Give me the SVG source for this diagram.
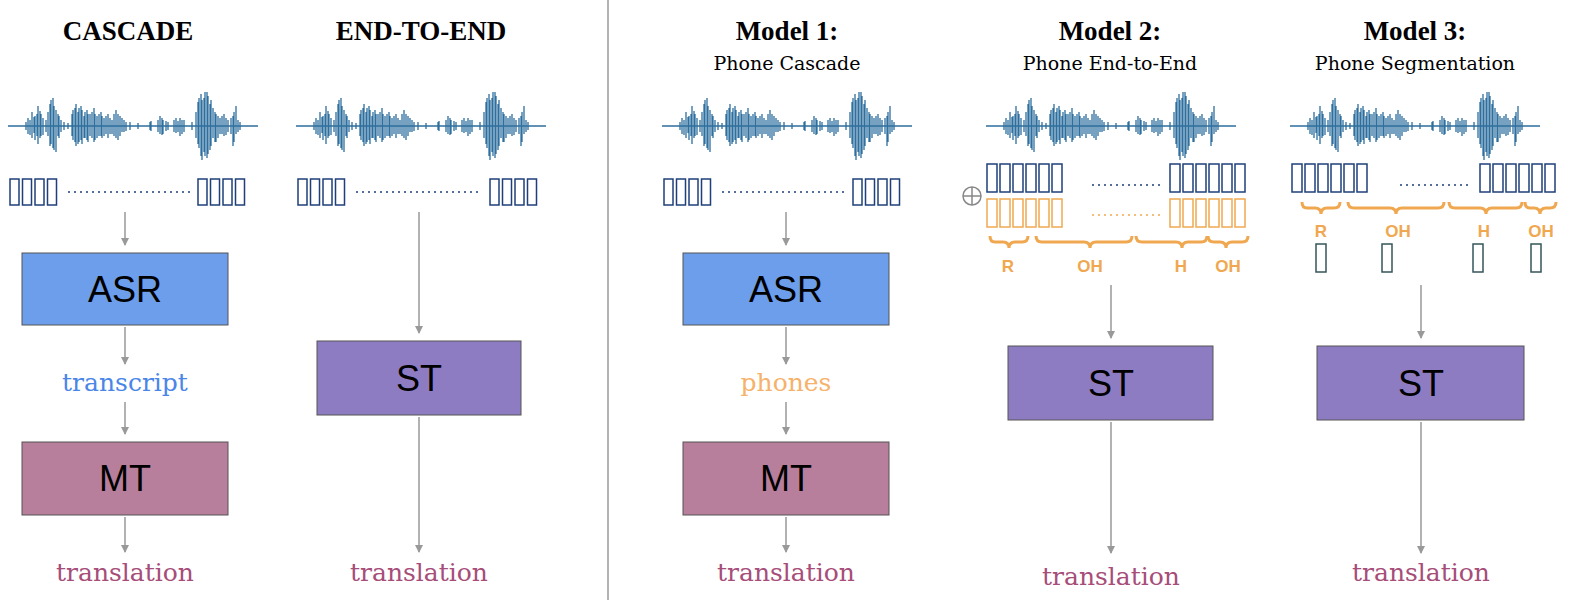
<svg xmlns="http://www.w3.org/2000/svg" width="1578" height="600" viewBox="0 0 1578 600">
<style>
.t{font-family:"Liberation Serif",serif;font-weight:bold;font-size:27px;text-anchor:middle}
.s{font-family:"DejaVu Serif",serif;font-size:19px;text-anchor:middle}
.b{font-family:"Liberation Sans",sans-serif;font-size:36px;text-anchor:middle}
.w{font-family:"DejaVu Serif",serif;font-size:25px;text-anchor:middle}
.a{stroke:#999;stroke-width:1.5;fill:none;marker-end:url(#ah)}
.bc{fill:none;stroke:#1f3f7a;stroke-width:1.5}
.oc{fill:none;stroke:#f0a850;stroke-width:1.5}
.gc{fill:none;stroke:#35555a;stroke-width:1.5}
.br{fill:none;stroke:#f0a850;stroke-width:3}
.dd{stroke-width:1.5;stroke-dasharray:2 4}
.l{font-family:"Liberation Sans",sans-serif;font-weight:bold;font-size:17px;fill:#f0a850;text-anchor:middle}
</style>
<defs>
<marker id="ah" markerWidth="10" markerHeight="10" refX="8" refY="5" orient="auto" markerUnits="userSpaceOnUse"><path d="M1,1 L9,5 L1,9 Z" fill="#999"/></marker>
<path id="wave" fill="none" stroke="#2e6f9e" stroke-width="1.3" d="M0,0 H250 M18,-4V4 M20,-8V8 M22,-6V9 M24,-14V12 M26,-9V7 M27,-10V14 M29,-12V10 M30,-20V18 M32,-15V12 M33,-12V10 M35,-8V9 M38,-6V6 M40,-14V10 M42,-22V20 M43,-26V18 M45,-28V22 M46,-20V24 M48,-16V26 M50,-12V10 M51,-10V12 M53,-6V6 M56,-4V4 M60,-3V3 M64,-12V10 M65,-16V14 M67,-18V16 M68,-22V20 M70,-14V18 M71,-18V16 M73,-20V14 M74,-16V18 M76,-10V12 M77,-14V12 M79,-16V14 M80,-12V16 M82,-12V10 M84,-14V12 M86,-18V16 M87,-12V14 M89,-10V12 M91,-12V10 M93,-14V10 M94,-10V12 M96,-8V10 M98,-10V8 M100,-12V12 M102,-8V8 M104,-6V8 M106,-12V10 M108,-16V12 M110,-12V14 M112,-10V10 M114,-8V6 M116,-6V6 M118,-4V5 M122,-4V4 M130,-3V3 M142,-4V4 M143,-5V5 M150,-6V6 M152,-10V8 M154,-8V9 M155,-6V8 M158,-5V5 M160,-4V4 M166,-6V6 M168,-8V7 M170,-5V6 M172,-8V10 M174,-6V8 M176,-6V6 M184,-4V4 M188,-14V12 M190,-24V18 M191,-28V22 M193,-32V30 M194,-26V34 M196,-28V26 M197,-34V30 M199,-34V32 M200,-30V28 M202,-22V24 M203,-26V20 M205,-18V12 M207,-14V16 M208,-12V16 M210,-10V12 M212,-8V8 M214,-10V8 M216,-12V10 M218,-8V9 M220,-6V6 M223,-8V8 M225,-10V20 M226,-14V16 M228,-20V8 M230,-6V6 M232,-4V4"/>
<g id="c4"><rect x="0" y="0" width="9" height="26"/><rect x="12.5" y="0" width="9" height="26"/><rect x="25" y="0" width="9" height="26"/><rect x="37.5" y="0" width="9" height="26"/></g>
<g id="c6"><rect x="0" y="0" width="10" height="28"/><rect x="13" y="0" width="10" height="28"/><rect x="26" y="0" width="10" height="28"/><rect x="39" y="0" width="10" height="28"/><rect x="52" y="0" width="10" height="28"/><rect x="65" y="0" width="10" height="28"/></g>
</defs>
<line x1="608" y1="0" x2="608" y2="600" stroke="#999" stroke-width="1.5"/>
<g id="titles">
<text class="t" x="128" y="40">CASCADE</text>
<text class="t" x="421" y="40">END-TO-END</text>
<text class="t" x="787" y="40">Model 1:</text>
<text class="s" x="787" y="70">Phone Cascade</text>
<text class="t" x="1110" y="40">Model 2:</text>
<text class="s" x="1110" y="70">Phone End-to-End</text>
<text class="t" x="1415" y="40">Model 3:</text>
<text class="s" x="1415" y="70">Phone Segmentation</text>
</g>
<g id="waves">
<use href="#wave" x="8" y="126"/>
<use href="#wave" x="296" y="126"/>
<use href="#wave" x="662" y="126"/>
<use href="#wave" x="986" y="126"/>
<use href="#wave" x="1290" y="126"/>
</g>
<g id="cells">
<use href="#c4" x="10" y="179" class="bc"/><line x1="68" y1="192" x2="190" y2="192" stroke="#1f3f7a" class="dd"/><use href="#c4" x="198" y="179" class="bc"/>
<use href="#c4" x="298" y="179" class="bc"/><line x1="356" y1="192" x2="478" y2="192" stroke="#1f3f7a" class="dd"/><use href="#c4" x="490" y="179" class="bc"/>
<use href="#c4" x="664" y="179" class="bc"/><line x1="722" y1="192" x2="844" y2="192" stroke="#1f3f7a" class="dd"/><use href="#c4" x="853" y="179" class="bc"/>
<circle cx="972" cy="196" r="9" fill="none" stroke="#888" stroke-width="1.5"/><path d="M963,196H981M972,187V205" stroke="#888" stroke-width="1.5"/>
<use href="#c6" x="987" y="164" class="bc"/><line x1="1092" y1="185" x2="1160" y2="185" stroke="#1f3f7a" class="dd"/><use href="#c6" x="1170" y="164" class="bc"/>
<use href="#c6" x="987" y="199" class="oc"/><line x1="1092" y1="215" x2="1160" y2="215" stroke="#f0a850" class="dd"/><use href="#c6" x="1170" y="199" class="oc"/>
<path class="br" d="M990,236 Q990,242 995,242 L1003,242 Q1009,242 1009,248 Q1009,242 1015,242 L1022,242 Q1028,242 1028,236"/>
<path class="br" d="M1036,236 Q1036,242 1042,242 L1084,242 Q1090,242 1090,248 Q1090,242 1096,242 L1126,242 Q1132,242 1132,236"/>
<path class="br" d="M1136,236 Q1136,242 1142,242 L1176,242 Q1182,242 1182,248 Q1182,242 1188,242 L1201,242 Q1207,242 1207,236"/>
<path class="br" d="M1208,236 Q1208,242 1214,242 L1220,242 Q1226,242 1226,248 Q1226,242 1232,242 L1242,242 Q1248,242 1248,236"/>
<text class="l" x="1008" y="272">R</text><text class="l" x="1090" y="272">OH</text><text class="l" x="1181" y="272">H</text><text class="l" x="1228" y="272">OH</text>
<use href="#c6" x="1292" y="164" class="bc"/><line x1="1400" y1="185" x2="1470" y2="185" stroke="#1f3f7a" class="dd"/><use href="#c6" x="1480" y="164" class="bc"/>
<path class="br" d="M1302,202 Q1302,208 1307,208 L1315,208 Q1321,208 1321,214 Q1321,208 1327,208 L1334,208 Q1340,208 1340,202"/>
<path class="br" d="M1348,202 Q1348,208 1354,208 L1390,208 Q1396,208 1396,214 Q1396,208 1402,208 L1438,208 Q1444,208 1444,202"/>
<path class="br" d="M1449,202 Q1449,208 1455,208 L1480,208 Q1486,208 1486,214 Q1486,208 1492,208 L1516,208 Q1522,208 1522,202"/>
<path class="br" d="M1525,202 Q1525,208 1530,208 L1534,208 Q1540,208 1540,214 Q1540,208 1546,208 L1550,208 Q1556,208 1556,202"/>
<text class="l" x="1321" y="237">R</text><text class="l" x="1398" y="237">OH</text><text class="l" x="1484" y="237">H</text><text class="l" x="1541" y="237">OH</text>
<g class="gc"><rect x="1316" y="244" width="10" height="28"/><rect x="1382" y="244" width="10" height="28"/><rect x="1473" y="244" width="10" height="28"/><rect x="1531" y="244" width="10" height="28"/></g>
</g>
<g id="connectors">
<path class="a" d="M125,212V245"/><path class="a" d="M125,327V364"/><path class="a" d="M125,402V434"/><path class="a" d="M125,517V552"/>
<path class="a" d="M419,212V333"/><path class="a" d="M419,417V552"/>
<path class="a" d="M786,212V245"/><path class="a" d="M786,327V364"/><path class="a" d="M786,402V434"/><path class="a" d="M786,517V552"/>
<path class="a" d="M1111,285V338"/><path class="a" d="M1111,422V553"/>
<path class="a" d="M1421,285V338"/><path class="a" d="M1421,422V553"/>
</g>
<g id="asr1"><rect x="22" y="253" width="206" height="72" fill="#6d9eeb" stroke="#555" stroke-width="1"/><text class="b" x="125" y="302">ASR</text></g>
<text id="transcript" class="w" x="125" y="391" fill="#4a86e8">transcript</text>
<g id="mt1"><rect x="22" y="442" width="206" height="73" fill="#b77f9b" stroke="#555" stroke-width="1"/><text class="b" x="125" y="491">MT</text></g>
<text class="w" x="125" y="581" fill="#a64d79">translation</text>
<g id="st1"><rect x="317" y="341" width="204" height="74" fill="#8e7cc3" stroke="#555" stroke-width="1"/><text class="b" x="419" y="391">ST</text></g>
<text class="w" x="419" y="581" fill="#a64d79">translation</text>
<g id="asr2"><rect x="683" y="253" width="206" height="72" fill="#6d9eeb" stroke="#555" stroke-width="1"/><text class="b" x="786" y="302">ASR</text></g>
<text id="phones" class="w" x="786" y="391" fill="#f6b26b">phones</text>
<g id="mt2"><rect x="683" y="442" width="206" height="73" fill="#b77f9b" stroke="#555" stroke-width="1"/><text class="b" x="786" y="491">MT</text></g>
<text class="w" x="786" y="581" fill="#a64d79">translation</text>
<g id="st2"><rect x="1008" y="346" width="205" height="74" fill="#8e7cc3" stroke="#555" stroke-width="1"/><text class="b" x="1111" y="396">ST</text></g>
<text class="w" x="1111" y="585" fill="#a64d79">translation</text>
<g id="st3"><rect x="1317" y="346" width="207" height="74" fill="#8e7cc3" stroke="#555" stroke-width="1"/><text class="b" x="1421" y="396">ST</text></g>
<text class="w" x="1421" y="581" fill="#a64d79">translation</text>
</svg>
